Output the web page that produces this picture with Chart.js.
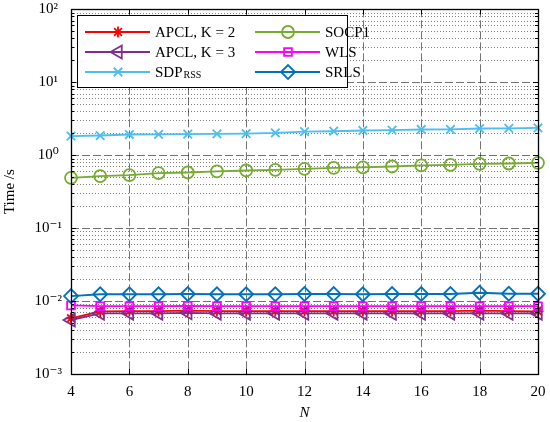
<!DOCTYPE html>
<html><head><meta charset="utf-8">
<script src="https://cdn.jsdelivr.net/npm/chart.js@4.4.1/dist/chart.umd.min.js"></script>
<style>html,body{margin:0;padding:0;background:#fff;} canvas{display:block;}</style>
</head><body>
<canvas id="c" width="550" height="422"></canvas>
<script>
// ---- data ----
const N = [4,5,6,7,8,9,10,11,12,13,14,15,16,17,18,19,20];
const apcl2 = [0.0058,0.0072,0.0073,0.0073,0.0074,0.0073,0.0073,0.0073,0.0073,0.0073,0.0073,0.0073,0.0073,0.0073,0.0074,0.0073,0.0072];
const apcl3 = [0.0055,0.0068,0.0068,0.0068,0.0069,0.0068,0.0068,0.0068,0.0068,0.0068,0.0068,0.0068,0.0068,0.0068,0.0068,0.0068,0.0068];
const sdpRss = [1.82,1.86,1.92,1.93,1.94,1.96,1.98,2.02,2.11,2.13,2.18,2.20,2.25,2.26,2.32,2.33,2.37];
const socp1 = [0.489,0.515,0.532,0.567,0.579,0.598,0.617,0.629,0.649,0.670,0.679,0.700,0.723,0.736,0.760,0.769,0.785];
const wls = [0.0087,0.0085,0.0085,0.0085,0.0086,0.0085,0.0085,0.0085,0.0085,0.0085,0.0085,0.0085,0.0085,0.0085,0.0085,0.0085,0.0085];
const srls = [0.0117,0.0124,0.0124,0.0124,0.0125,0.0124,0.0124,0.0124,0.0125,0.0125,0.0124,0.0125,0.0125,0.0125,0.0130,0.0126,0.0126];
const seriesLabels = ['APCL, K = 2','APCL, K = 3','SDP','SOCP1','WLS','SRLS'];
const seriesSub = ['','','RSS','','',''];
const yTickValues = [1e-3,1e-2,1e-1,1,10,100];
const yTickLabels = ['10\u207B\u00B3','10\u207B\u00B2','10\u207B\u00B9','10\u2070','10\u00B9','10\u00B2'];
const xTickValues = [4,6,8,10,12,14,16,18,20];
const xTitle = 'N';
const yTitle = 'Time /s';

const FONT = "'Liberation Serif','DejaVu Serif',serif";

function pts(vals){ return N.map((n,i)=>({x:n,y:vals[i]})); }
function ds(i, vals, color, style, radius, rot){
  return {label: seriesLabels[i], sub: seriesSub[i], data: pts(vals), borderColor: color,
    backgroundColor: 'rgba(0,0,0,0)', pointBackgroundColor:'rgba(0,0,0,0)',
    pointBorderColor: color, pointStyle: style, pointRadius: radius, pointHoverRadius: radius,
    pointRotation: rot||0, pointBorderWidth: 1.8, borderWidth: 1.8, tension: 0, clip: false};
}

const datasets = [
  ds(0, apcl2, '#ff0000', 'star', 5.5),
  ds(1, apcl3, '#7e2f8e', 'triangle', 7.5, -90),
  ds(2, sdpRss, '#4dbeee', 'crossRot', 6),
  ds(3, socp1, '#77ac30', 'circle', 6),
  ds(4, wls, '#ff00ff', 'rect', 5.5),
  ds(5, srls, '#0072bd', 'rectRot', 7)
];

const gridPlugin = {
  id: 'matlabGrid',
  beforeDatasetsDraw(chart){
    const {ctx, chartArea:a, scales:{x,y}} = chart;
    ctx.save();
    ctx.lineWidth = 1;
    ctx.strokeStyle = 'rgba(0,0,0,0.5)';
    ctx.setLineDash([1,2]);
    for (let e=-3;e<2;e++){
      for (let k=2;k<10;k++){
        const py = Math.round(y.getPixelForValue(k*Math.pow(10,e)))+0.5;
        ctx.beginPath(); ctx.moveTo(a.left,py); ctx.lineTo(a.right,py); ctx.stroke();
      }
    }
    ctx.strokeStyle = 'rgba(0,0,0,0.55)';
    ctx.setLineDash([8,3]);
    yTickValues.forEach(v=>{
      const py = Math.round(y.getPixelForValue(v))+0.5;
      if (py<=a.top+1 || py>=a.bottom-1) return;
      ctx.beginPath(); ctx.moveTo(a.left,py); ctx.lineTo(a.right,py); ctx.stroke();
    });
    xTickValues.forEach(v=>{
      const px = Math.round(x.getPixelForValue(v))+0.5;
      if (px<=a.left+1 || px>=a.right-1) return;
      ctx.beginPath(); ctx.moveTo(px,a.top); ctx.lineTo(px,a.bottom); ctx.stroke();
    });
    ctx.restore();
  },
  afterDatasetsDraw(chart){
    const {ctx, chartArea:a, scales:{x,y}} = chart;
    ctx.save();
    ctx.setLineDash([]);
    ctx.strokeStyle = '#000';
    ctx.lineWidth = 1;
    const tick = (x1,y1,x2,y2)=>{ctx.beginPath();ctx.moveTo(x1,y1);ctx.lineTo(x2,y2);ctx.stroke();};
    for (let e=-3;e<2;e++){
      for (let k=1;k<10;k++){
        const py = Math.round(y.getPixelForValue(k*Math.pow(10,e)))+0.5;
        const L = k===1?5:3;
        tick(a.left,py,a.left+L,py); tick(a.right,py,a.right-L,py);
      }
    }
    xTickValues.forEach(v=>{
      const px = Math.round(x.getPixelForValue(v))+0.5;
      tick(px,a.bottom,px,a.bottom-5); tick(px,a.top,px,a.top+5);
    });
    ctx.lineWidth = 1.3;
    ctx.strokeRect(Math.round(a.left)+0.5, Math.round(a.top)+0.5, Math.round(a.right-a.left), Math.round(a.bottom-a.top));

    // legend
    const bx=77, by=15, bw=270, bh=72;
    ctx.fillStyle='#fff';
    ctx.fillRect(bx,by,bw,bh);
    ctx.lineWidth=1;
    ctx.strokeStyle='#000';
    ctx.strokeRect(bx+0.5,by+0.5,bw,bh);
    chart.data.datasets.forEach((d,i)=>{
      const col = i<3?0:1, row = i%3;
      const lx = col===0?85:255, cy = 32+row*20;
      ctx.strokeStyle = d.borderColor; ctx.lineWidth = 1.8;
      ctx.beginPath(); ctx.moveTo(lx,cy); ctx.lineTo(lx+65,cy); ctx.stroke();
      ctx.fillStyle='rgba(0,0,0,0)';
      Chart.helpers.drawPoint(ctx,{pointStyle:d.pointStyle,rotation:d.pointRotation,radius:d.pointRadius,borderWidth:1.8},lx+33,cy);
      ctx.fillStyle='#000';
      ctx.textBaseline='middle'; ctx.textAlign='left';
      ctx.font = "15px "+FONT;
      ctx.fillText(d.label, lx+70, cy+1);
      if (d.sub){
        const w = ctx.measureText(d.label).width;
        ctx.font = "10px "+FONT;
        ctx.textBaseline='alphabetic';
        ctx.fillText(d.sub, lx+70+w+1, cy+6);
      }
    });
    ctx.restore();
  }
};

new Chart(document.getElementById('c'), {
  type: 'line',
  data: { datasets: datasets.map((d,i)=>Object.assign(d,{order: 6-i})) },
  options: {
    responsive: false, animation: false, events: [],
    layout: { padding: { top: 9, right: 12, left: 0, bottom: 0 } },
    plugins: { legend: {display:false}, tooltip:{enabled:false} },
    scales: {
      x: { type:'linear', min:4, max:20,
        afterBuildTicks(s){ s.ticks = xTickValues.map(v=>({value:v})); },
        afterFit(s){ s.height = 48; s.paddingLeft = 0; s.paddingRight = 0; },
        grid:{display:false, drawTicks:false}, border:{display:false},
        ticks:{ color:'#000', font:{family:FONT,size:15}, padding:9, maxRotation:0, autoSkip:false },
        title:{display:true, text:xTitle, color:'#000', font:{family:FONT,size:15,style:'italic'}, padding:{top:0,bottom:0}}
      },
      y: { type:'logarithmic', min:1e-3, max:1e2,
        afterBuildTicks(s){ s.ticks = yTickValues.map(v=>({value:v})); },
        afterFit(s){ s.width = 71; s.paddingTop = 0; s.paddingBottom = 0; },
        grid:{display:false, drawTicks:false}, border:{display:false},
        ticks:{ color:'#000', font:{family:FONT,size:15}, padding:9, autoSkip:false, crossAlign:'center',
          callback(v){ const i = yTickValues.findIndex(t=>Math.abs(Math.log10(t)-Math.log10(v))<1e-6); return i>=0?yTickLabels[i]:''; } },
        title:{display:true, text:yTitle, color:'#000', font:{family:FONT,size:15}, padding:{top:1,bottom:0}}
      }
    }
  },
  plugins:[gridPlugin]
});
</script>
</body></html>
